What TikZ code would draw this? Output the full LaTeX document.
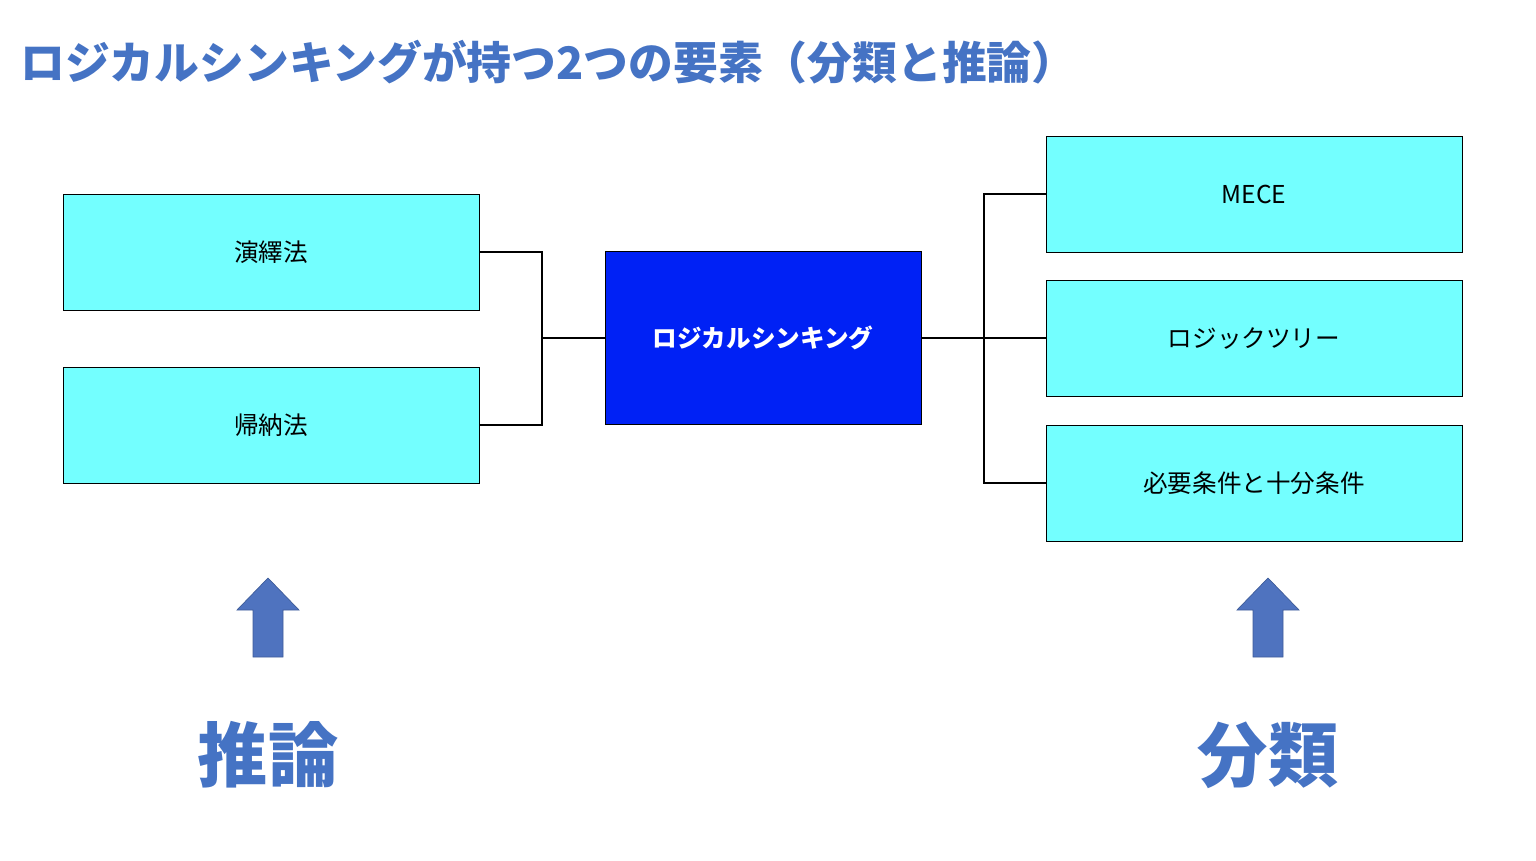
\documentclass[tikz,border=0pt]{standalone}
\usepackage{fontspec}
\setmainfont{Noto Sans CJK JP}
\definecolor{boxcyan}{rgb}{0.45,1.0,1.0}
\definecolor{coreblue}{rgb}{0.0,0.13,0.96}
\definecolor{titleblue}{rgb}{0.27,0.45,0.77}
\definecolor{arrowblue}{rgb}{0.31,0.45,0.75}
\tikzset{
  itembox/.style={draw=black,fill=boxcyan,minimum width=416*0.02cm,minimum height=116*0.02cm,font=\fontsize{14}{16}\selectfont},
  corebox/.style={draw=black,fill=coreblue,text=white,minimum width=316*0.02cm,minimum height=173*0.02cm,font=\bfseries\fontsize{14}{16}\selectfont},
  link/.style={draw=black,line width=0.6pt},
  bigarrow/.style={fill=arrowblue,draw=arrowblue!80!black,line width=0.4pt},
  biglabel/.style={text=titleblue,font=\bfseries\fontsize{40}{44}\selectfont}
}
\begin{document}
\begin{tikzpicture}[x=0.02cm,y=-0.02cm]
\useasboundingbox (0,0) rectangle (1536,860);
% title
\node[anchor=west,text=titleblue,font=\bfseries\fontsize{25.5}{28}\selectfont] (title) at (14,62){ロジカルシンキングが持つ2つの要素（分類と推論）};
% boxes
\node[itembox] (deduct) at (271,252){演繹法};
\node[itembox] (induct) at (271,425){帰納法};
\node[corebox] (core) at (763,338){ロジカルシンキング};
\node[itembox] (mece) at (1254,194){MECE};
\node[itembox] (tree) at (1254,338){ロジックツリー};
\node[itembox] (cond) at (1254,483){必要条件と十分条件};
% connectors
\coordinate (lj) at (542,338);
\coordinate (rj) at (984,338);
\draw[link] (deduct.east) -| (lj) |- (induct.east);
\draw[link] (lj) -- (core.west);
\draw[link] (core.east) -- (tree.west);
\draw[link] (mece.west) -| (rj) |- (cond.west);
% arrows
\foreach \ax/\nm in {268/infer,1268/classify}{
  \draw[bigarrow] (\ax-15,657) -- (\ax-15,610) -- (\ax-31,610) -- (\ax,578) -- (\ax+31,610) -- (\ax+15,610) -- (\ax+15,657) -- cycle;
}
\node[biglabel] (infer) at (268,755){推論};
\node[biglabel] (classify) at (1268,755){分類};
\end{tikzpicture}
\end{document}
